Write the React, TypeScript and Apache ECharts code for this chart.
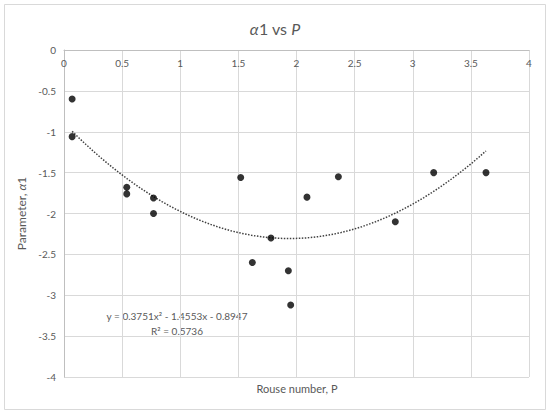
import React, { useEffect, useRef } from "react";
import * as echarts from "echarts";

const rouseNumbers = [0.07, 0.07, 0.54, 0.54, 0.77, 0.77, 1.52, 1.62, 1.78, 1.93, 1.95, 2.09, 2.36, 2.85, 3.18, 3.63];
const alphaValues = [-0.6, -1.06, -1.68, -1.76, -1.81, -2.0, -1.56, -2.6, -2.3, -2.7, -3.12, -1.8, -1.55, -2.1, -1.5, -1.5];
// Trendline shown on the chart: y = 0.3751x^2 - 1.4553x - 0.8947
const trendCoefficients = [0.3751, -1.4553, -0.8947];
const equationLabel = "y = 0.3751x² - 1.4553x - 0.8947";
const rSquaredLabel = "R² = 0.5736";

const FONT = "Lato, 'Liberation Sans', sans-serif";
const GRAY_TEXT = "#595959";

export default function App() {
  const ref = useRef<HTMLDivElement>(null);

  useEffect(() => {
    if (!ref.current) return;
    const chart = echarts.init(ref.current, undefined, { renderer: "svg" });

    const points = rouseNumbers.map((x, i) => [x, alphaValues[i]]);
    const xMin = Math.min(...rouseNumbers);
    const xMax = Math.max(...rouseNumbers);
    const trend: number[][] = [];
    const steps = 60;
    for (let k = 0; k <= steps; k++) {
      const x = xMin + ((xMax - xMin) * k) / steps;
      const [a, b, c] = trendCoefficients;
      trend.push([x, a * x * x + b * x + c]);
    }

    chart.setOption({
      animation: false,
      backgroundColor: "#ffffff",
      textStyle: { fontFamily: FONT },
      title: {
        text: "{i|α}1 vs {i|P}",
        left: "center",
        top: 15,
        textStyle: {
          fontFamily: FONT,
          fontSize: 16,
          fontWeight: "normal",
          color: GRAY_TEXT,
          rich: {
            i: { fontFamily: FONT, fontSize: 16, fontStyle: "italic", color: GRAY_TEXT },
          },
        },
      },
      grid: { left: 64, top: 50, width: 465, height: 327, containLabel: false },
      xAxis: {
        type: "value",
        min: 0,
        max: 4,
        interval: 0.5,
        position: "top",
        axisLine: { show: true, onZero: false, lineStyle: { color: "#bfbfbf", width: 1 } },
        axisTick: { show: false },
        axisLabel: { inside: true, margin: 8, color: GRAY_TEXT, fontSize: 10, fontFamily: FONT },
        splitLine: { show: true, lineStyle: { color: "#d9d9d9", width: 1 } },
      },
      yAxis: {
        type: "value",
        min: -4,
        max: 0,
        interval: 0.5,
        name: "Parameter, {i|α}1",
        nameLocation: "middle",
        nameGap: 31,
        nameRotate: 90,
        nameTextStyle: {
          color: GRAY_TEXT,
          fontSize: 12,
          fontFamily: FONT,
          rich: { i: { fontStyle: "italic", color: GRAY_TEXT, fontSize: 12, fontFamily: FONT } },
        },
        axisLine: { show: true, onZero: false, lineStyle: { color: "#bfbfbf", width: 1 } },
        axisTick: { show: false },
        axisLabel: { margin: 8, color: GRAY_TEXT, fontSize: 10, fontFamily: FONT },
        splitLine: { show: true, lineStyle: { color: "#d9d9d9", width: 1 } },
      },
      graphic: [
        {
          type: "rect",
          shape: { x: 4.5, y: 4.5, width: 541, height: 405 },
          style: { fill: "none", stroke: "#d9d9d9", lineWidth: 1 },
          silent: true,
        },
        {
          type: "text",
          x: 297,
          y: 388,
          style: {
            text: "Rouse number, P",
            fill: GRAY_TEXT,
            font: `11px ${FONT}`,
            textAlign: "center",
            textVerticalAlign: "middle",
          },
        },
        {
          type: "text",
          x: 177,
          y: 316,
          style: {
            text: equationLabel,
            fill: GRAY_TEXT,
            font: `10px ${FONT}`,
            textAlign: "center",
            textVerticalAlign: "middle",
          },
        },
        {
          type: "text",
          x: 177,
          y: 331,
          style: {
            text: rSquaredLabel,
            fill: GRAY_TEXT,
            font: `10px ${FONT}`,
            textAlign: "center",
            textVerticalAlign: "middle",
          },
        },
      ],
      series: [
        {
          type: "line",
          data: trend,
          showSymbol: false,
          symbol: "none",
          smooth: false,
          lineStyle: { color: "#404040", width: 1.5, type: [1.5, 1.5] },
          silent: true,
          z: 2,
        },
        {
          type: "scatter",
          data: points,
          symbol: "circle",
          symbolSize: 7,
          itemStyle: { color: "#000000" },
          z: 3,
        },
      ],
    });

    return () => chart.dispose();
  }, []);

  return (
    <div
      ref={ref}
      style={{ position: "absolute", left: 0, top: 0, width: 550, height: 414 }}
    />
  );
}
